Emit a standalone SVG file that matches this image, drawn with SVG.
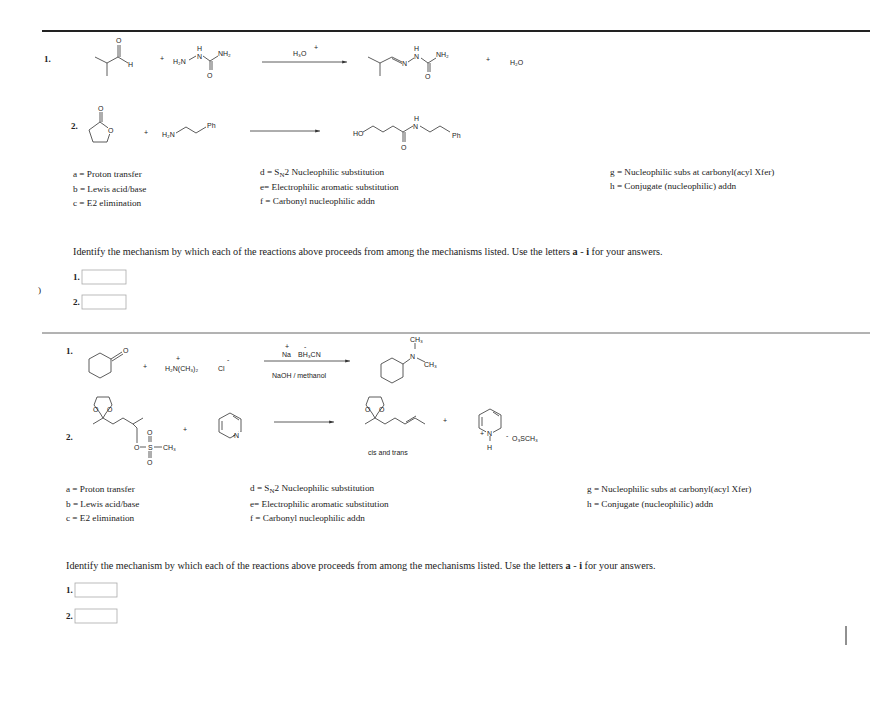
<svg xmlns="http://www.w3.org/2000/svg" width="896" height="725" viewBox="0 0 896 725">
<style>
.s{font-family:"Liberation Serif",serif;font-size:9.2px;fill:#222}
.i{font-family:"Liberation Serif",serif;font-size:10.2px;fill:#222}
.c{font-family:"Liberation Sans",sans-serif;font-size:7px;fill:#222}
.b{font-family:"Liberation Serif",serif;font-size:9px;font-weight:bold;fill:#222}
.l{stroke:#333;stroke-width:0.8;fill:none}
.box{fill:#fff;stroke:#aaa;stroke-width:0.8}
</style>
<defs><marker id="ah" markerWidth="6" markerHeight="4" refX="6" refY="2" orient="auto"><path d="M0,0L6,2L0,4z" fill="#333"/></marker></defs>
<rect width="896" height="725" fill="#fff"/>
<line x1="42" y1="31" x2="870" y2="31" stroke="#222" stroke-width="2"/>
<line x1="42" y1="333" x2="870" y2="333" stroke="#666" stroke-width="1"/>
<g id="r1">
<text class="b" x="44" y="62">1.</text>
<path class="l" d="M95,57L107,63L107,76M107,63L118,57L118,45M120,57L120,45M118,57L128,63"/>
<text class="c" x="116" y="43">O</text><text class="c" x="128" y="67">H</text>
<text class="c" x="160" y="61">+</text>
<text class="c" x="173" y="64">H₂N</text><text class="c" x="197" y="59">N</text><text class="c" x="197" y="51">H</text>
<path class="l" d="M189,60L196,56M203,56L210,61L218,56M210,61L210,70M212,61L212,70"/>
<text class="c" x="207" y="78">O</text><text class="c" x="218" y="56">NH₂</text>
</g>
<g id="c1"><line class="l" x1="262" y1="62" x2="347" y2="62" marker-end="url(#ah)"/><text class="c" x="293" y="56">H₃O</text><text class="c" x="314" y="50">+</text></g>
<g id="p1">
<path class="l" d="M368,57L380,63L380,76M380,63L392,57L402,62M392,58.5L402,63.5M408,62L414,58M421,58L428,63L436,58M428,63L428,72M430,63L430,72"/>
<text class="c" x="402" y="66">N</text><text class="c" x="414" y="59">N</text><text class="c" x="414" y="51">H</text>
<text class="c" x="425" y="79">O</text><text class="c" x="436" y="57">NH₂</text>
<text class="c" x="486" y="62">+</text><text class="c" x="510" y="65">H₂O</text>
</g>
<g id="r2">
<text class="b" x="71" y="129">2.</text>
<path class="l" d="M100,122L111,130L107,142L93,142L89,130ZM100,122L100,112M102,122L102,112"/>
<rect x="108" y="127" width="6" height="7" fill="#fff"/><text class="c" x="108" y="133">O</text><text class="c" x="98" y="111">O</text>
<text class="c" x="144" y="135">+</text>
<text class="c" x="162" y="137">H₂N</text><path class="l" d="M176,133L186,127L196,133L206,127"/><text class="c" x="207" y="128">Ph</text>
</g>
<g id="c2"><line class="l" x1="250" y1="131" x2="320" y2="131" marker-end="url(#ah)"/></g>
<g id="p2">
<text class="c" x="353" y="136">HO</text>
<path class="l" d="M363,132L373,126L383,132L393,126L403,132L403,142M405,132L405,142M403,132L413,126M420,126L430,132L440,126L450,132"/>
<text class="c" x="413" y="129">N</text><text class="c" x="414" y="121">H</text><text class="c" x="401" y="150">O</text><text class="c" x="452" y="138">Ph</text>
</g>
<g id="opts1">
<text class="s" x="73" y="177">a = Proton transfer</text>
<text class="s" x="73" y="192">b = Lewis acid/base</text>
<text class="s" x="73" y="206">c = E2 elimination</text>
<text class="s" x="260" y="175">d = S<tspan font-size="7" dy="2">N</tspan><tspan dy="-2">2 Nucleophilic substitution</tspan></text>
<text class="s" x="260" y="190">e= Electrophilic aromatic substitution</text>
<text class="s" x="260" y="204">f = Carbonyl nucleophilic addn</text>
<text class="s" x="610" y="175">g = Nucleophilic subs at carbonyl(acyl Xfer)</text>
<text class="s" x="610" y="189">h = Conjugate (nucleophilic) addn</text>
<text class="i" x="73" y="255">Identify the mechanism by which each of the reactions above proceeds from among the mechanisms listed. Use the letters <tspan font-weight="bold">a</tspan> - <tspan font-weight="bold">i</tspan> for your answers.</text>
<text class="b" x="73" y="280">1.</text><rect class="box" x="82" y="270" width="44" height="14"/>
<text class="b" x="73" y="305">2.</text><rect class="box" x="82" y="295" width="44" height="14"/>
<text class="s" x="38" y="293">)</text>
</g>
<g id="r3">
<text class="b" x="66" y="354">1.</text>
<path class="l" d="M100,353L111,359L111,372L100,378L89,372L89,359ZM111,359L122,352M112,361L123,354"/><text class="c" x="123" y="353">O</text>
<text class="c" x="143" y="369">+</text>
<text class="c" x="176" y="361">+</text><text class="c" x="165" y="371">H₂N(CH₃)₂</text>
<text class="c" x="218" y="371">Cl</text><text class="c" x="227" y="362">-</text>
</g>
<g id="c3"><line class="l" x1="264" y1="361" x2="350" y2="361" marker-end="url(#ah)"/>
<text class="c" x="285" y="349">+</text><text class="c" x="304" y="349">-</text>
<text class="c" x="282" y="357">Na</text><text class="c" x="298" y="357">BH₃CN</text>
<text class="c" x="272" y="378">NaOH / methanol</text></g>
<g id="p3">
<path class="l" d="M392,358L403,364L403,377L392,383L381,377L381,364ZM403,364L410,359M415,349L415,343M417,358L425,362"/>
<text class="c" x="410" y="359">N</text><text class="c" x="410" y="342">CH₃</text><text class="c" x="424" y="367">CH₃</text>
</g>
<g id="r4">
<text class="b" x="66" y="440">2.</text>
<path class="l" d="M100,413L94,405L97,397L109,397L112,405L106,413M100,413L103,418L106,413M103,418L93,424M103,418L113,424L123,418L133,424L143,418M133,424L137,428L137,443M140,447L146,447M154,447L162,447M149,442L149,436M151,442L151,436M149,451L149,458M151,451L151,458"/>
<text class="c" x="93" y="412">O</text><text class="c" x="107" y="412">O</text>
<text class="c" x="134" y="450">O</text><text class="c" x="148" y="450">S</text><text class="c" x="147" y="435">O</text><text class="c" x="147" y="465">O</text><text class="c" x="163" y="450">CH₃</text>
<text class="c" x="183" y="432">+</text>
<path class="l" d="M230,413L241,419L241,432L230,438L219,432L219,419ZM222,421L222,430M233,416L239,420M233,436L239,432"/>
<rect x="235" y="432" width="6" height="6" fill="#fff"/><text class="c" x="234" y="438">N</text>
</g>
<g id="c4"><line class="l" x1="274" y1="422" x2="334" y2="422" marker-end="url(#ah)"/></g>
<g id="p4">
<path class="l" d="M372,413L366,405L369,397L381,397L384,405L378,413M372,413L375,418L378,413M375,418L365,424M375,418L385,424L395,418L405,424L415,418M406,422L416,416M415,418L425,424"/>
<text class="c" x="365" y="412">O</text><text class="c" x="379" y="412">O</text>
<text class="c" x="368" y="455">cis and trans</text>
<text class="c" x="443" y="423">+</text>
<path class="l" d="M490,409L501,415L501,428L490,434L479,428L479,415ZM482,417L482,426M493,412L499,416M490,434L490,441"/>
<rect x="486" y="429" width="7" height="7" fill="#fff"/><text class="c" x="487" y="436">N</text><text class="c" x="480" y="436">+</text><text class="c" x="487" y="450">H</text>
<text class="c" x="506" y="438">-</text><text class="c" x="512" y="441">O₃SCH₃</text>
</g>
<g id="opts2">
<text class="s" x="66" y="492">a = Proton transfer</text>
<text class="s" x="66" y="507">b = Lewis acid/base</text>
<text class="s" x="66" y="521">c = E2 elimination</text>
<text class="s" x="250" y="491">d = S<tspan font-size="7" dy="2">N</tspan><tspan dy="-2">2 Nucleophilic substitution</tspan></text>
<text class="s" x="250" y="507">e= Electrophilic aromatic substitution</text>
<text class="s" x="250" y="521">f = Carbonyl nucleophilic addn</text>
<text class="s" x="587" y="492">g = Nucleophilic subs at carbonyl(acyl Xfer)</text>
<text class="s" x="587" y="507">h = Conjugate (nucleophilic) addn</text>
<text class="i" x="66" y="569">Identify the mechanism by which each of the reactions above proceeds from among the mechanisms listed. Use the letters <tspan font-weight="bold">a</tspan> - <tspan font-weight="bold">i</tspan> for your answers.</text>
<text class="b" x="66" y="593">1.</text><rect class="box" x="75" y="583" width="42" height="14"/>
<text class="b" x="66" y="619">2.</text><rect class="box" x="75" y="609" width="42" height="14"/>
<line x1="846" y1="626" x2="846" y2="645" stroke="#222" stroke-width="1"/>
</g>
</svg>
